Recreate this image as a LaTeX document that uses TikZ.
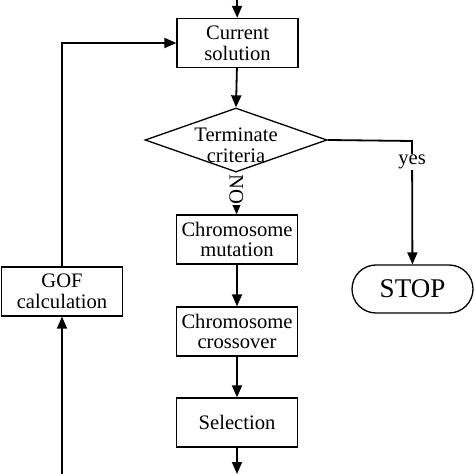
\documentclass[tikz,border=0pt]{standalone}
\usepackage{fontspec}
\setmainfont{Liberation Serif}
\usetikzlibrary{shapes.geometric,arrows.meta}
\begin{document}
\begin{tikzpicture}[x=0.5pt,y=-0.5pt,
  font=\fontsize{10.3}{10.3}\selectfont,
  box/.style={draw,line width=0.65pt,minimum width=60.5pt,minimum height=24.5pt,align=center,inner sep=1pt},
  term/.style={draw,line width=0.65pt,rounded corners=12pt,minimum width=60.5pt,minimum height=24pt,inner sep=1pt,font=\fontsize{13.5}{13.5}\selectfont},
  dia/.style={draw,line width=0.65pt,diamond,aspect=2.84,minimum width=91pt,minimum height=32pt,inner sep=0pt},
  arr/.style={line width=0.9pt,-{Triangle[length=6pt,width=5pt]}},
  lab/.style={fill=white,inner sep=0.5pt}]
\useasboundingbox (0,0) rectangle (474,474);
\node[box] (cur) at (237.5,43) {Current\\solution};
\node[dia] (dec) at (236,140) {};
\node[align=center] (dectxt) at (236,145) {Terminate\\criteria};
\node[box] (mut) at (237,239.5) {Chromosome\\mutation};
\node[box] (cro) at (237,331.5) {Chromosome\\crossover};
\node[box] (sel) at (237,422.5) {Selection};
\node[box] (gof) at (62,291.5) {GOF\\calculation};
\node[term] (stop) at (412.5,289) {STOP};
\coordinate (top) at (237,0);
\coordinate (bot) at (237,474);
\coordinate (gofbot) at (62,474);
\coordinate (yescorner) at (412,141);
\coordinate (loopcorner) at (62,43);
\draw[arr] (top) -- (cur);
\draw[arr] (cur) -- (dec.north);
\draw[arr] (dec.south) -- node[lab,rotate=-90,pos=0.4] (no) {NO} (mut);
\draw[arr] (dec.east) -- (yescorner) -- node[lab,pos=0.17] (yes) {yes} (stop);
\draw[arr] (mut) -- (cro);
\draw[arr] (cro) -- (sel);
\draw[arr] (sel) -- (bot);
\draw[arr] (gofbot) -- (gof);
\draw[arr] (gof) -- (loopcorner) -- (cur);
\end{tikzpicture}
\end{document}
